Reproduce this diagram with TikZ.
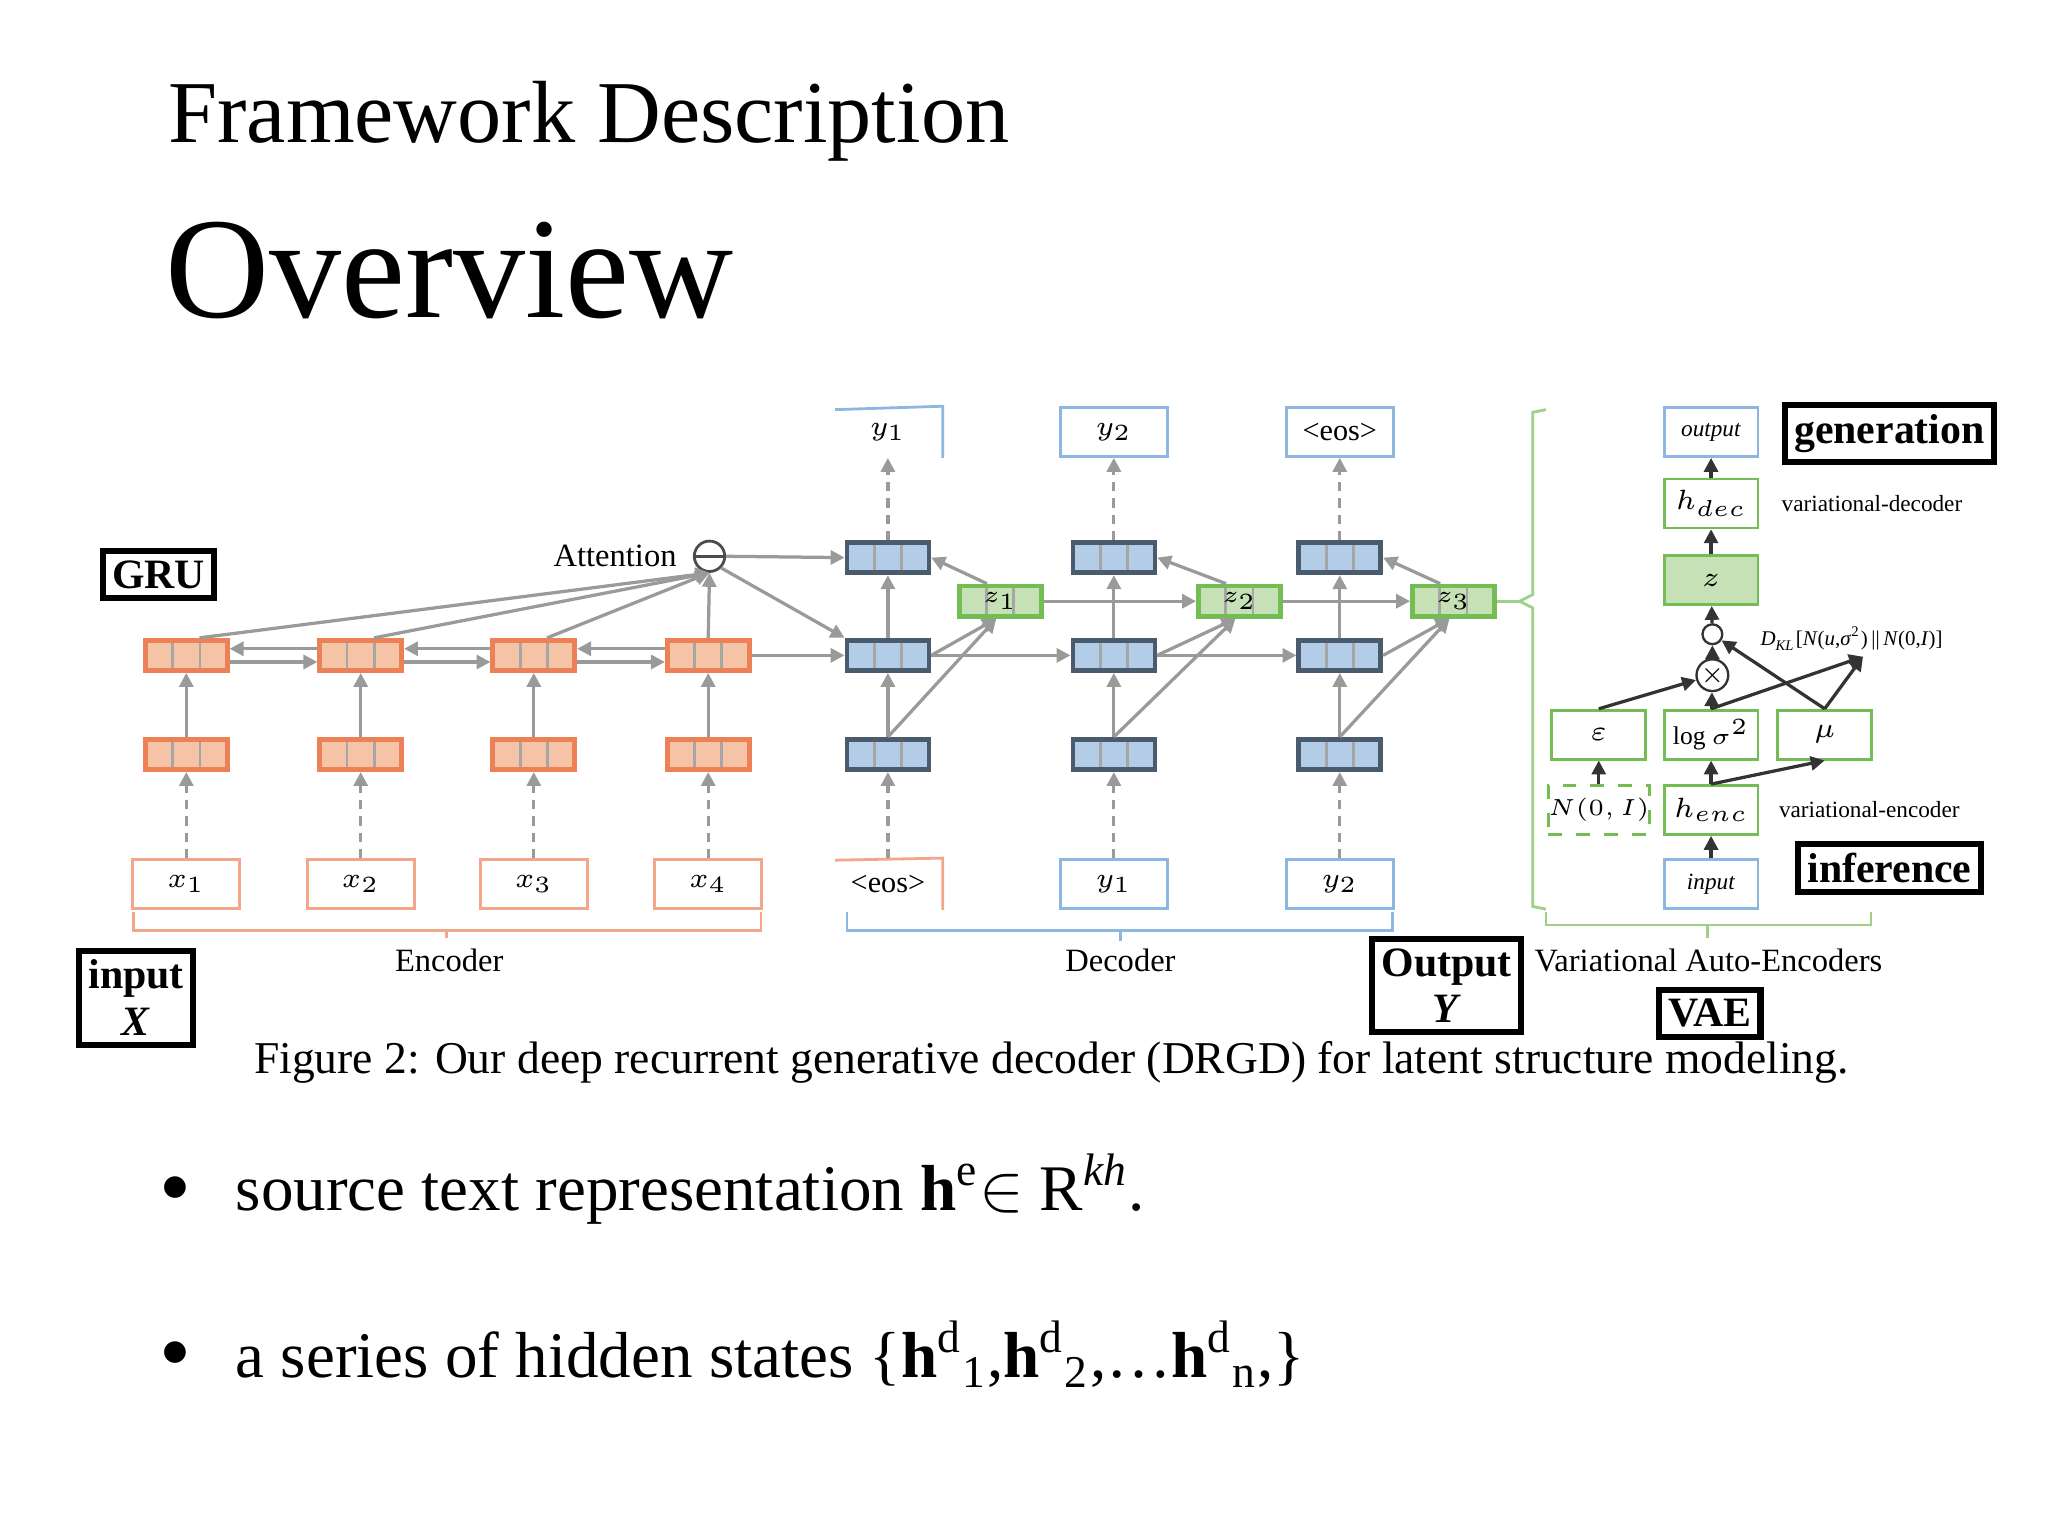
\documentclass[tikz,border=0pt]{standalone}
\usepackage{fontspec}
\setmainfont{Liberation Serif}
\usetikzlibrary{arrows.meta,decorations.pathreplacing}
\definecolor{ofill}{HTML}{F5C3A6}
\definecolor{ostroke}{HTML}{EC8158}
\definecolor{bfill}{HTML}{B3CDE8}
\definecolor{bstroke}{HTML}{4B5B6E}
\definecolor{gfill}{HTML}{C6E1B6}
\definecolor{gstroke}{HTML}{74BC54}
\definecolor{lblue}{HTML}{8DB6E0}
\definecolor{arr}{HTML}{9A9A9A}
\begin{document}
\begin{tikzpicture}[x=0.01cm,y=-0.01cm,
  fs/.style={font=\fontsize{#1}{#1}\selectfont},
  cell/.style={draw, line width=1pt, minimum width=.62cm, minimum height=.23cm, inner sep=0,
    path picture={\draw[black!35,line width=.6pt]
      ([xshift=-.103cm]path picture bounding box.north) -- ([xshift=-.103cm]path picture bounding box.south)
      ([xshift=.103cm]path picture bounding box.north) -- ([xshift=.103cm]path picture bounding box.south);}},
  ocell/.style={cell, fill=ofill, draw=ostroke},
  bcell/.style={cell, fill=bfill, draw=bstroke},
  zcell/.style={cell, fill=gfill, draw=gstroke, fs=5},
  tok/.style={draw, line width=.6pt, minimum width=.81cm, minimum height=.37cm, inner sep=0, fs=6.5},
  vbox/.style={draw=gstroke, line width=.6pt, minimum width=.71cm, minimum height=.37cm, inner sep=0, fs=6.5},
  lab/.style={draw, line width=1.3pt, inner sep=2pt, font=\bfseries\fontsize{9}{10}\selectfont, align=center},
  a/.style={arr, line width=.7pt, -{Triangle[length=3pt,width=3pt]}},
  ad/.style={a, dashed, dash pattern=on 2pt off 1.5pt},
  k/.style={black!80, line width=.7pt, -{Triangle[length=3pt,width=3pt]}}
]
\useasboundingbox (0,0) rectangle (1550,1162);
% titles
\node[anchor=west, fs=19] (t1) at (115,92) {Framework Description};
\node[anchor=west, fs=31] (t2) at (113,205) {Overview};

% encoder
\foreach \i/\x in {1/141,2/273,3/404,4/536}{
  \node[ocell] (et\i) at (\x,496) {};
  \node[ocell] (em\i) at (\x,571) {};
  \node[tok, draw=ostroke!70] (x\i) at (\x,669) {$x_{\i}$};
  \draw[ad] (x\i) -- (em\i);
  \draw[a] (em\i) -- (et\i);
}
\foreach \i/\j in {1/2,2/3,3/4}{
  \draw[a] ([yshift=.05cm]et\j.west) -- ([yshift=.05cm]et\i.east);
  \draw[a] ([yshift=-.05cm]et\i.east) -- ([yshift=-.05cm]et\j.west);
}
\node[draw=black!70, circle, minimum size=.23cm, inner sep=0, line width=.6pt] (att) at (537,421) {};
\draw[black!70,line width=.6pt] (att.west) -- (att.east);
\node[anchor=east, fs=7] (attl) at (att.west) {Attention};
\draw[a] ([xshift=.1cm]et1.north) -- (att.south);
\draw[a] ([xshift=.1cm]et2.north) -- (att.south);
\draw[a] ([xshift=.1cm]et3.north) -- (att.south);
\draw[a] (et4.north) -- (att.south);

% decoder
\foreach \i/\x in {1/672,2/843,3/1014}{
  \node[bcell] (dt\i) at (\x,422) {};
  \node[bcell] (dm\i) at (\x,496) {};
  \node[bcell] (db\i) at (\x,571) {};
  \draw[a] (db\i) -- (dm\i);
  \draw[a] (dm\i) -- (dt\i);
}
\node[zcell] (z1) at (757,455) {$z_1$};
\node[zcell] (z2) at (938,455) {$z_2$};
\node[zcell] (z3) at (1100,455) {$z_3$};
\node[tok, draw=none] (o1) at (672,327) {$y_1$};
\node[tok, draw=lblue] (o2) at (843,327) {$y_2$};
\node[tok, draw=lblue] (o3) at (1014,327) {<eos>};
\node[tok, draw=none] (i1) at (672,669) {<eos>};
\node[tok, draw=lblue] (i2) at (843,669) {$y_1$};
\node[tok, draw=lblue] (i3) at (1014,669) {$y_2$};
\draw[lblue,line width=.6pt] (632,310) -- (o1.north east) -- (o1.south east);
\draw[ostroke!70,line width=.6pt] (632,651) -- (i1.north east) -- (i1.south east);
\foreach \i in {1,2,3}{
  \draw[ad] (dt\i) -- (o\i);
  \draw[ad] (i\i) -- (db\i);
  \draw[a] ([xshift=-.1cm]z\i.north) -- (dt\i.east);
  \draw[a] (dm\i.east) -- ([xshift=-.03cm]z\i.south);
  \draw[a] (db\i.north) -- ([xshift=-.03cm]z\i.south);
}
\draw[a] (z1) -- (z2);
\draw[a] (z2) -- (z3);
\draw[a] (dm1) -- (dm2);
\draw[a] (dm2) -- (dm3);
\draw[a] (att.east) -- (dt1.west);
\draw[a] (att.south east) -- (dm1.north west);
\draw[a] (et4.east) -- (dm1.west);

% braces
\draw[ostroke!70, line width=.6pt] (101,690) -- (101,704) -- (576,704) -- (576,690) (338,704) -- (338,710);
\node[fs=7] (enc) at (340,727) {Encoder};
\draw[lblue, line width=.6pt] (641,690) -- (641,704) -- (1054,704) -- (1054,690) (848,704) -- (848,712);
\node[fs=7] (dec) at (848,727) {Decoder};
\draw[gstroke!70, line width=.6pt] (1170,690) -- (1170,700) -- (1416,700) -- (1416,690) (1292,700) -- (1292,710);
\node[fs=7] (vaet) at (1293,727) {Variational Auto-Encoders};
\coordinate (br) at (1150,455);
\draw[gstroke!70, line width=.6pt] (1170,310) -- (1160,312) -- (1160,450) -- (br) -- (1160,460) -- (1160,686) -- (1170,688);
\draw[gstroke!70, line width=.6pt] (z3.east) -- (br);

% VAE
\node[vbox, draw=lblue, fs=5] (vout) at (1295,327) {\textit{output}};
\node[vbox] (hdec) at (1295,381) {$h_{dec}$};
\node[vbox, fill=gfill] (vz) at (1295,439) {$z$};
\node[draw=black!80, circle, minimum size=.15cm, inner sep=0, line width=.5pt] (plus) at (1296,480) {};
\node[draw=black!80, circle, minimum size=.14cm, inner sep=0, line width=.5pt, fs=4] (times) at (1296,511) {$\times$};
\node[vbox] (eps) at (1210,556) {$\varepsilon$};
\node[vbox, fs=5.5] (logs) at (1295,556) {$\log\sigma^2$};
\node[vbox] (mu) at (1381,556) {$\mu$};
\node[vbox, dashed, fs=5.5] (nor) at (1210,613) {$N(0,I)$};
\node[vbox] (henc) at (1295,613) {$h_{enc}$};
\node[vbox, draw=lblue, fs=5] (vin) at (1295,669) {\textit{input}};
\node[anchor=west, fs=5] (vdl) at (1336,381) {variational-decoder};
\node[anchor=west, fs=5] (vel) at (1334,613) {variational-encoder};
\node[anchor=west, fs=4.5] (dkl) at (1320,483) {\textit{D}\textsubscript{\textit{KL}}[\textit{N}(\textit{u},\textit{σ}\textsuperscript{2})\,||\,\textit{N}(0,\textit{I})]};
\coordinate (dk) at (1410,497);
\draw[k] (vin) -- (henc);
\draw[k] (henc) -- (logs);
\draw[k] (henc.north) -- (mu.south);
\draw[k] (nor) -- (eps);
\draw[k] (eps.north) -- (times);
\draw[k] (logs) -- (times);
\draw[k] (logs.north) -- (dk);
\draw[k] (mu.north) -- (dk);
\draw[k] (mu.north) -- (plus);
\draw[k] (times) -- (plus);
\draw[k] (plus) -- (vz);
\draw[k] (vz) -- (hdec);
\draw[k] (hdec) -- (vout);

% labels
\node[lab] (gru) at (120,435) {GRU};
\node[lab] (gen) at (1430,328) {generation};
\node[lab] (inf) at (1430,657) {inference};
\node[lab] (inx) at (103,755) {input\\\textit{X}};
\node[lab] (outy) at (1095,746) {Output\\\textit{Y}};
\node[lab] (vae) at (1294,767) {VAE};

% caption
\node[anchor=west, fs=9.8] (cap) at (180,804) {Figure 2: Our deep recurrent generative decoder (DRGD) for latent structure modeling.};

% bullets
\node[fs=13] (b1) at (133,900) {$\bullet$};
\node[anchor=west, fs=14] (t3) at (166,900) {source text representation \textbf{h}\textsuperscript{e}$\in$ R\textsuperscript{\textit{kh}}.};
\node[fs=13] (b2) at (133,1025) {$\bullet$};
\node[anchor=west, fs=14] (t4) at (166,1025) {a series of hidden states \{\textbf{h}\textsuperscript{d}\textsubscript{1},\textbf{h}\textsuperscript{d}\textsubscript{2},\ldots\textbf{h}\textsuperscript{d}\textsubscript{n},\}};
\end{tikzpicture}
\end{document}
